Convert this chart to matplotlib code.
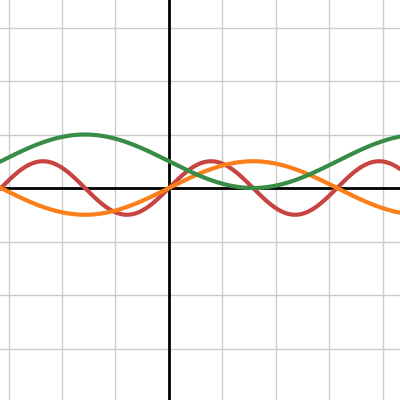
import numpy as np
import matplotlib
matplotlib.use("Agg")
import matplotlib.pyplot as plt

# Curves: name, amplitude, frequency, phase-offset constant, sign
names = ["red", "orange", "green"]
amps = [0.5, 0.5, -0.5]
freqs = [2, 1, 1]
offsets = [0.0, 0.0, 0.5]
colors = ["#c74440", "#fa7e19", "#388c46"]

xmin, xmax = -169/53.5, 231/53.5
ymin, ymax = -212/53.5, 188/53.5

fig = plt.figure(figsize=(4, 4), dpi=100)
ax = fig.add_axes([0, 0, 1, 1])
ax.set_xlim(xmin, xmax)
ax.set_ylim(ymin, ymax)
for v in range(-4, 6):
    ax.axvline(v, color="#cccccc", lw=1, zorder=0)
    ax.axhline(v, color="#cccccc", lw=1, zorder=0)
ax.axvline(0, color="black", lw=2, zorder=1)
ax.axhline(0, color="black", lw=2, zorder=1)
x = np.linspace(xmin, xmax, 800)
for a, f, o, c in zip(amps, freqs, offsets, colors):
    ax.plot(x, o + a*np.sin(f*x), color=c, lw=3, zorder=2, solid_capstyle="round")
ax.set_xticks([]); ax.set_yticks([])
for s in ax.spines.values():
    s.set_visible(False)
fig.savefig("out.png", dpi=100)
